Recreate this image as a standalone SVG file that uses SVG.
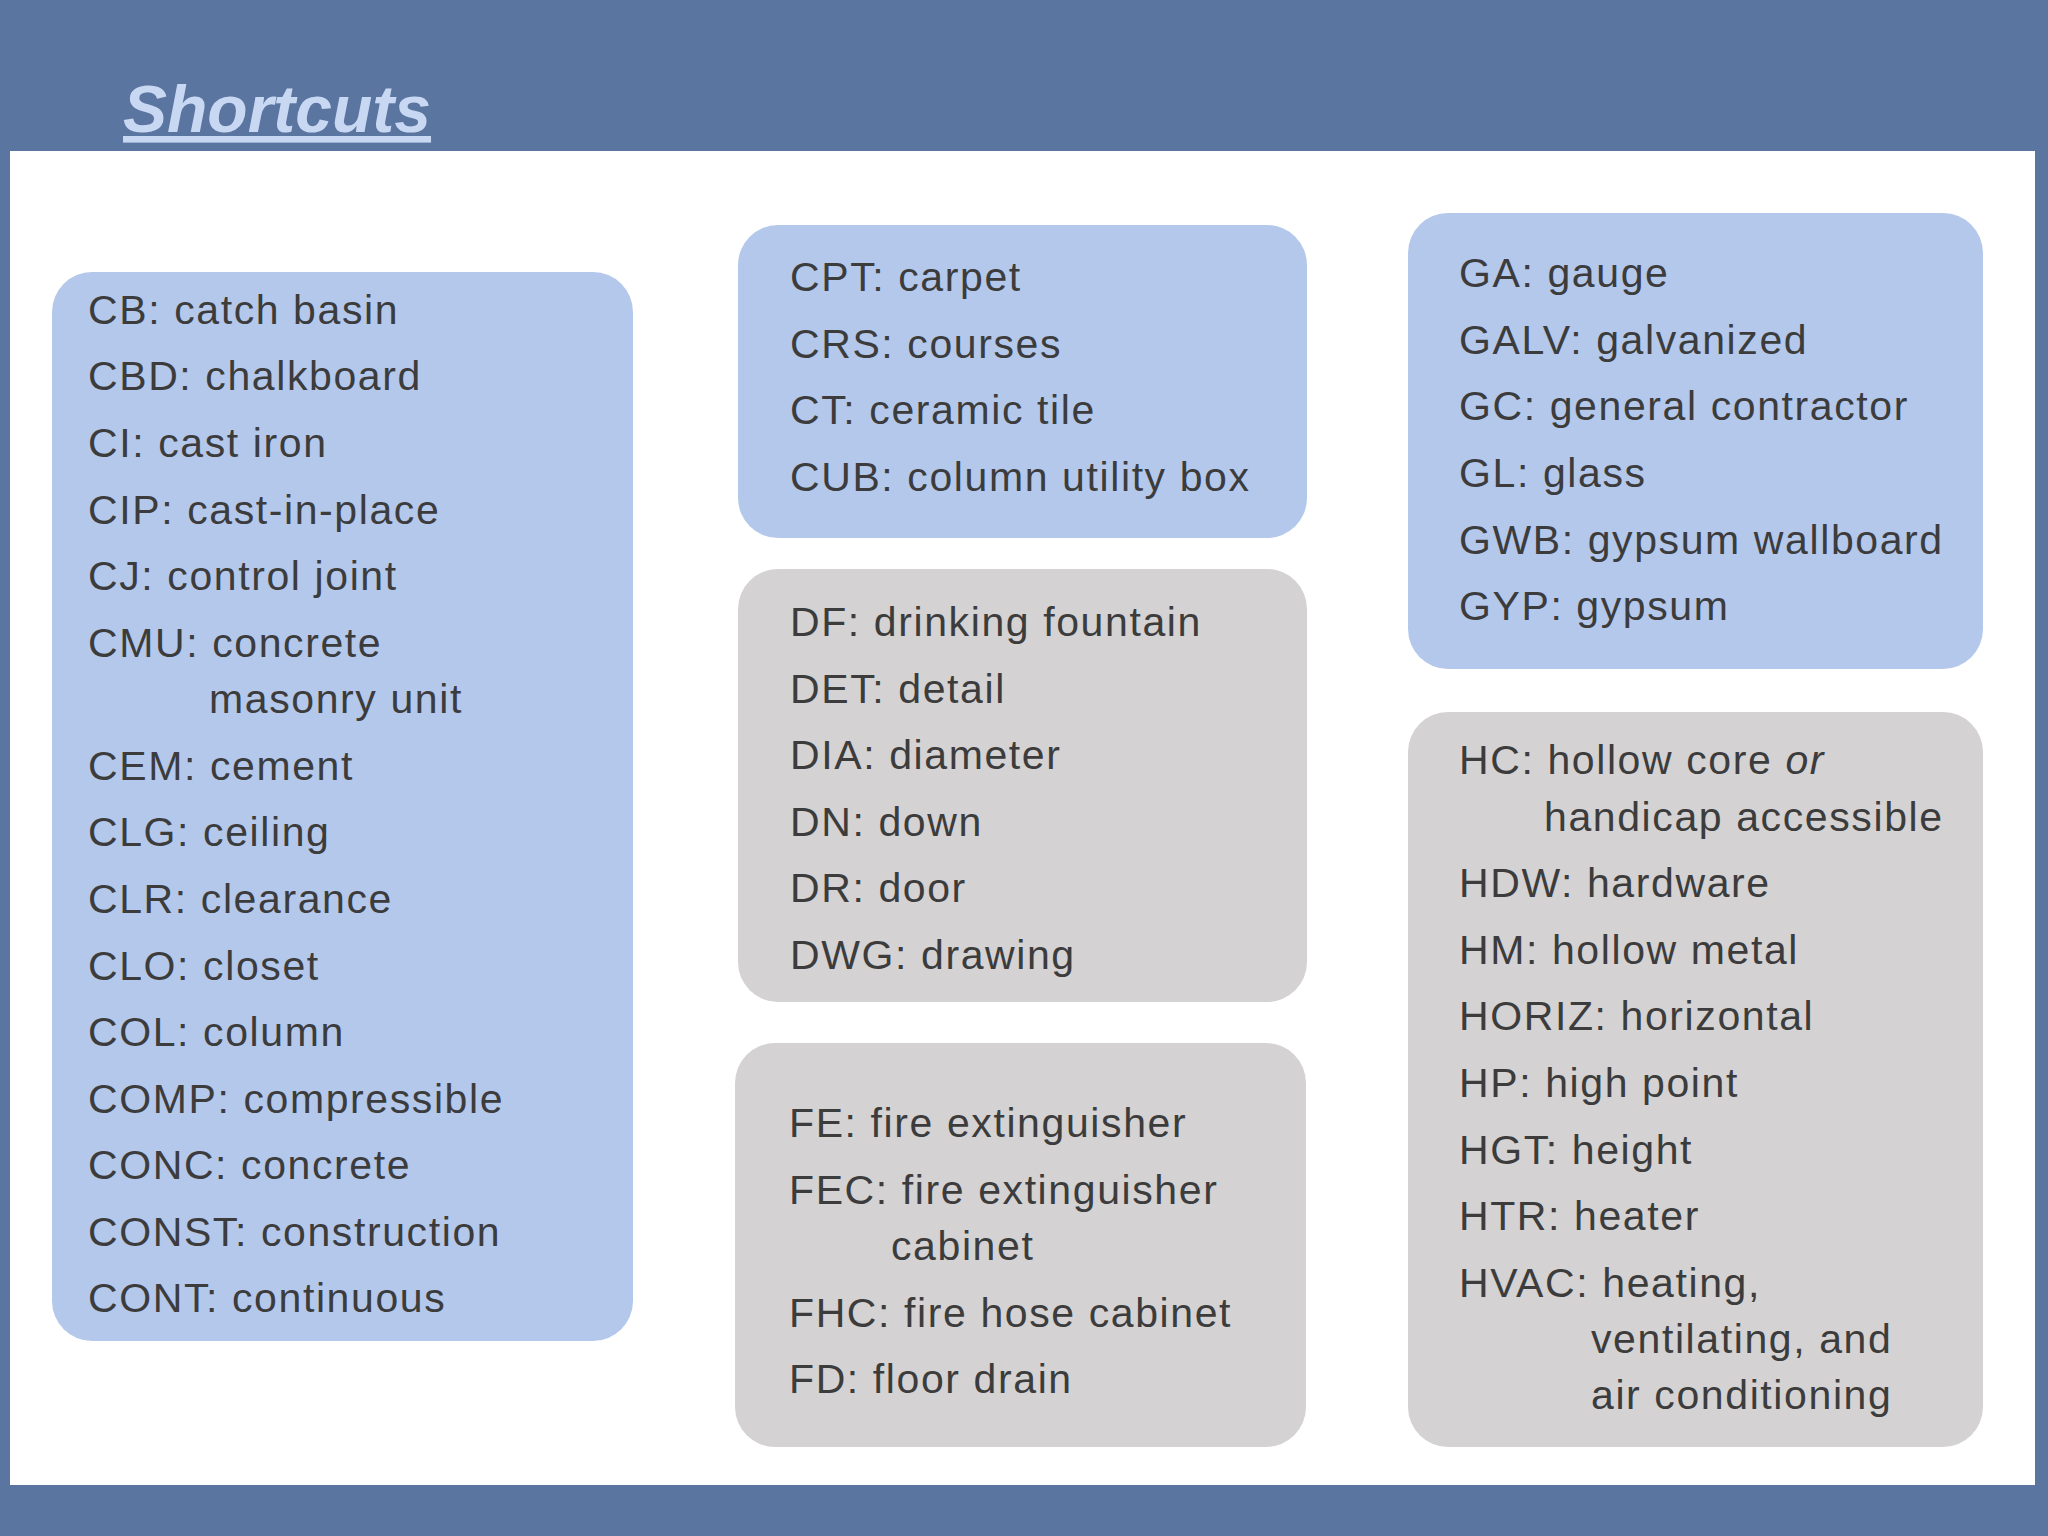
<svg xmlns="http://www.w3.org/2000/svg" width="2048" height="1536" viewBox="0 0 2048 1536">
<style>
.b{fill:#b4c8ec}.g{fill:#d4d2d3}
text{font-family:"Liberation Sans",Arial,sans-serif;font-size:41px;letter-spacing:1.6px;fill:#3c3c3c}
</style>
<rect width="2048" height="1536" fill="#5b75a1"/>
<rect x="10" y="151" width="2025" height="1334" fill="#ffffff"/>
<text x="123" y="132" style="font-size:66px;letter-spacing:0;font-weight:bold;font-style:italic;fill:#c9d8f2;text-decoration:underline">Shortcuts</text>
<g id="box1"><rect class="b" x="52" y="272" width="581" height="1069" rx="40"/>
<text x="88" y="324">CB: catch basin</text><text x="88" y="390">CBD: chalkboard</text><text x="88" y="457">CI: cast iron</text><text x="88" y="524">CIP: cast-in-place</text><text x="88" y="590">CJ: control joint</text><text x="88" y="657">CMU: concrete</text><text x="209" y="713">masonry unit</text><text x="88" y="780">CEM: cement</text><text x="88" y="846">CLG: ceiling</text><text x="88" y="913">CLR: clearance</text><text x="88" y="980">CLO: closet</text><text x="88" y="1046">COL: column</text><text x="88" y="1113">COMP: compressible</text><text x="88" y="1179">CONC: concrete</text><text x="88" y="1246">CONST: construction</text><text x="88" y="1312">CONT: continuous</text></g>
<g id="box2"><rect class="b" x="738" y="225" width="569" height="313" rx="40"/>
<text x="790" y="291">CPT: carpet</text><text x="790" y="358">CRS: courses</text><text x="790" y="424">CT: ceramic tile</text><text x="790" y="491">CUB: column utility box</text></g>
<g id="box3"><rect class="g" x="738" y="569" width="569" height="433" rx="40"/>
<text x="790" y="636">DF: drinking fountain</text><text x="790" y="703">DET: detail</text><text x="790" y="769">DIA: diameter</text><text x="790" y="836">DN: down</text><text x="790" y="902">DR: door</text><text x="790" y="969">DWG: drawing</text></g>
<g id="box4"><rect class="g" x="735" y="1043" width="571" height="404" rx="40"/>
<text x="789" y="1137">FE: fire extinguisher</text><text x="789" y="1204">FEC: fire extinguisher</text><text x="891" y="1260">cabinet</text><text x="789" y="1327">FHC: fire hose cabinet</text><text x="789" y="1393">FD: floor drain</text></g>
<g id="box5"><rect class="b" x="1408" y="213" width="575" height="456" rx="40"/>
<text x="1459" y="287">GA: gauge</text><text x="1459" y="354">GALV: galvanized</text><text x="1459" y="420">GC: general contractor</text><text x="1459" y="487">GL: glass</text><text x="1459" y="554">GWB: gypsum wallboard</text><text x="1459" y="620">GYP: gypsum</text></g>
<g id="box6"><rect class="g" x="1408" y="712" width="575" height="735" rx="40"/>
<text x="1459" y="774">HC: hollow core <tspan font-style="italic">or</tspan></text><text x="1544" y="831">handicap accessible</text><text x="1459" y="897">HDW: hardware</text><text x="1459" y="964">HM: hollow metal</text><text x="1459" y="1030">HORIZ: horizontal</text><text x="1459" y="1097">HP: high point</text><text x="1459" y="1164">HGT: height</text><text x="1459" y="1230">HTR: heater</text><text x="1459" y="1297">HVAC: heating,</text><text x="1591" y="1353">ventilating, and</text><text x="1591" y="1409">air conditioning</text></g>
<g id="connectors"/>
</svg>
